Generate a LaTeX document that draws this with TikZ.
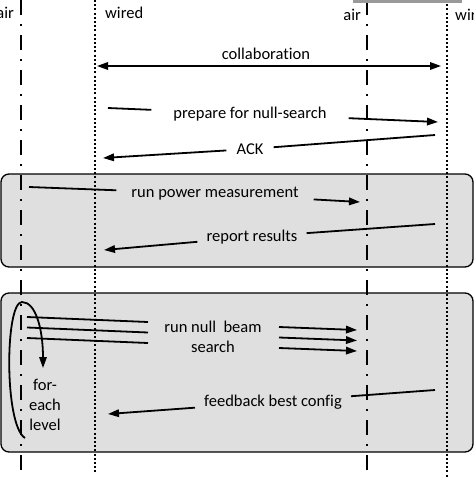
\documentclass[tikz,border=0pt]{standalone}
\usepackage{fontspec}
\setmainfont{Carlito}[Ligatures=NoCommon]
\usetikzlibrary{arrows.meta, positioning, calc}

\begin{document}
\begin{tikzpicture}[
    x=1pt, y=-1pt,
    >={Triangle[length=11pt, width=7.5pt]},
    every node/.style={font=\fontsize{16.5}{20}\selectfont},
    airline/.style={line width=2.4pt, dash pattern=on 15pt off 9pt on 2pt off 9pt},
    wiredline/.style={line width=2.2pt, dash pattern=on 2pt off 2.2pt},
    phasebox/.style={draw=black, line width=1.3pt, fill=gray!25, rounded corners=8pt},
    msgline/.style={line width=1.8pt},
    arrow/.style={->, line width=1.8pt},
    msglabel/.style={inner ysep=2pt, align=center},
    lifelabel/.style={inner sep=0pt},
]
\useasboundingbox (0,0) rectangle (474,477);

% === PHASE BOXES ===
\draw[phasebox] (1,174) rectangle (473,267);
\draw[phasebox] (1,293) rectangle (473,452);

% === LIFELINES ===
\coordinate (airLt) at (21,0);
\coordinate (airLb) at (21,477);
\coordinate (wiredLt) at (95,0);
\coordinate (wiredLb) at (95,472);
\coordinate (airRt) at (367,0);
\coordinate (airRb) at (367,477);
\coordinate (wiredRt) at (447,0);
\coordinate (wiredRb) at (447,477);

\draw[airline] (airLt) -- (airLb);
\draw[wiredline] (wiredLt) -- (wiredLb);
\draw[airline] (airRt) -- (airRb);
\draw[wiredline] (wiredRt) -- (wiredRb);

% top bar (cut off)
\coordinate (barL) at (353,1);
\coordinate (barR) at (462,1);
\draw[gray!80, line width=3pt] (barL) -- (barR);

% Lifeline labels
\node[lifelabel, anchor=base east] (airLlbl) at (14,18) {air};
\node[lifelabel, anchor=base west] (wiredLlbl) at (105,18) {wired};
\node[lifelabel, anchor=base east] (airRlbl) at (361,20) {air};
\node[lifelabel, anchor=base west] (wiredRlbl) at (455,20) {wired};

% === MESSAGES ===
% collaboration
\coordinate (collabL) at (97,66);
\coordinate (collabR) at (441,66);
\draw[<->, line width=1.8pt] (collabL) -- (collabR)
    node[midway, above, inner sep=5pt, xshift=-3pt] (collab) {collaboration};

% prepare for null-search
\coordinate (prepS) at (108,108);
\coordinate (prepE) at (438,122);
\node[msglabel, inner xsep=22pt] (prep) at (250,114) {prepare for null-search};
\draw[msgline] (prepS) -- (prep);
\draw[arrow] (prep) -- (prepE);

% ACK
\coordinate (ackS) at (435,135);
\coordinate (ackE) at (103,158);
\node[msglabel, inner xsep=10pt] (ack) at (250,149) {ACK};
\draw[msgline] (ackS) -- (ack);
\draw[arrow] (ack) -- (ackE);

% run power measurement
\coordinate (powS) at (29,187);
\coordinate (powE) at (360,202);
\node[msglabel, inner xsep=15pt] (pow) at (215,194) {run power measurement};
\draw[msgline] (powS) -- (pow);
\draw[arrow] (pow) -- (powE);

% report results
\coordinate (repS) at (435,224);
\coordinate (repE) at (104,250);
\node[msglabel, inner xsep=9pt] (rep) at (252,237) {report results};
\draw[msgline] (repS) -- (rep);
\draw[arrow] (rep) -- (repE);

% run null beam search (three parallel)
\node[msglabel] (null) at (213,337) {run null\ \ beam\\search};
\foreach \i/\dy in {1/0, 2/10.5, 3/21} {
    \coordinate (nullS\i) at (27,317+\dy);
    \coordinate (nullM\i) at (148,322+\dy);
    \coordinate (nullN\i) at (279,327+\dy);
    \coordinate (nullE\i) at (357,330+\dy);
    \draw[msgline] (nullS\i) -- (nullM\i);
    \draw[arrow] (nullN\i) -- (nullE\i);
}

% for-each loop
\coordinate (loopS) at (25,438);
\coordinate (loopT) at (22,302);
\coordinate (loopE) at (43,368);
\draw[arrow] (loopS) .. controls (4,425) and (5,302) .. (loopT)
    .. controls (36,302) and (43,330) .. (loopE);
\node[msglabel] (foreach) at (45,405) {for-\\each\\level};

% feedback best config
\coordinate (fbS) at (435,390);
\coordinate (fbE) at (108,414);
\node[msglabel, inner xsep=9pt] (fb) at (273,402) {feedback best config};
\draw[msgline] (fbS) -- (fb);
\draw[arrow] (fb) -- (fbE);

\end{tikzpicture}
\end{document}
